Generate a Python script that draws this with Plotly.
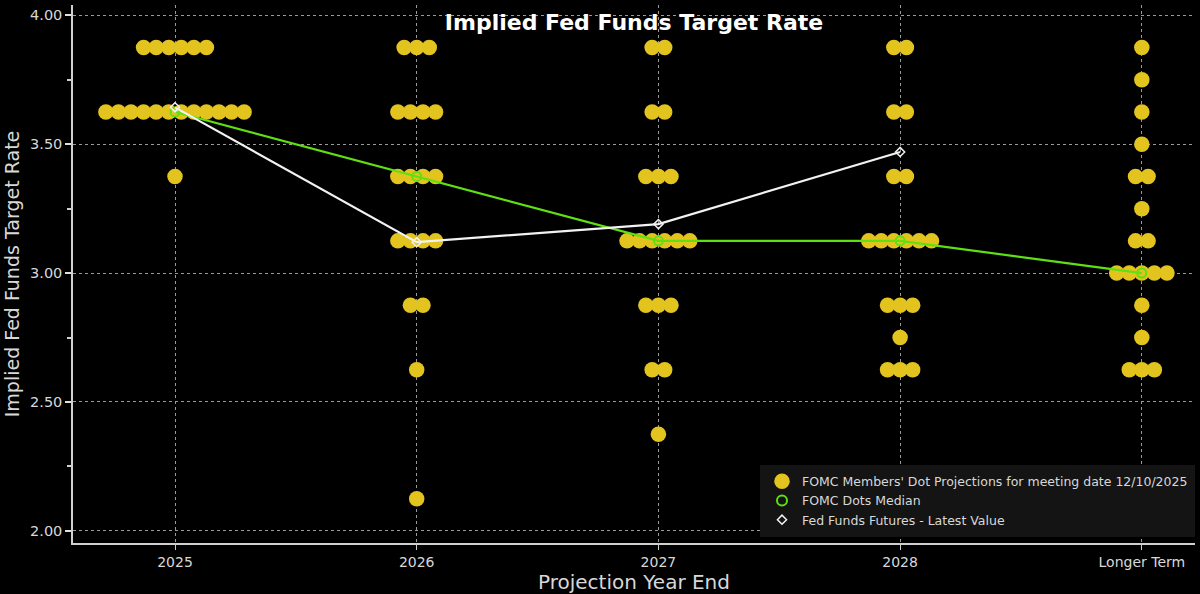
import plotly.graph_objects as go

categories = ["2025", "2026", "2027", "2028", "Longer Term"]

# FOMC dot plot: rate levels and number of participants at each level
dot_rates = [
    [3.875, 3.625, 3.375],
    [3.875, 3.625, 3.375, 3.125, 2.875, 2.625, 2.125],
    [3.875, 3.625, 3.375, 3.125, 2.875, 2.625, 2.375],
    [3.875, 3.625, 3.375, 3.125, 2.875, 2.75, 2.625],
    [3.875, 3.75, 3.625, 3.5, 3.375, 3.25, 3.125, 3.0, 2.875, 2.75, 2.625],
]
dot_counts = [
    [6, 12, 1],
    [3, 4, 4, 4, 2, 1, 1],
    [2, 2, 3, 6, 3, 2, 1],
    [2, 2, 2, 6, 3, 1, 3],
    [1, 1, 1, 1, 2, 1, 2, 5, 1, 1, 3],
]
median_values = [3.625, 3.375, 3.125, 3.125, 3.0]
futures_values = [3.643, 3.12, 3.19, 3.47]

yticks = [2.0, 2.5, 3.0, 3.5, 4.0]

YELLOW = "#E3C31E"
GREEN = "#5FE012"
WHITE = "#F2F2F2"
SPACING = 0.052  # horizontal offset between side-by-side dots (x units)

dx, dy = [], []
for i, (rates, counts) in enumerate(zip(dot_rates, dot_counts)):
    for r, n in zip(rates, counts):
        for k in range(n):
            dx.append(i + (k - (n - 1) / 2) * SPACING)
            dy.append(r)

FONT = "DejaVu Sans"

fig = go.Figure()
fig.add_trace(go.Scatter(
    x=dx, y=dy, mode="markers",
    marker=dict(size=15.5, color=YELLOW, line=dict(width=0)),
    name="FOMC Members' Dot Projections for meeting date 12/10/2025",
))
fig.add_trace(go.Scatter(
    x=list(range(len(median_values))), y=median_values, mode="lines+markers",
    line=dict(color=GREEN, width=2.2),
    marker=dict(symbol="circle-open", size=9, color=GREEN, line=dict(width=2)),
    showlegend=False, name="FOMC Dots Median",
))
fig.add_trace(go.Scatter(
    x=list(range(len(futures_values))), y=futures_values, mode="lines+markers",
    line=dict(color=WHITE, width=2.2),
    marker=dict(symbol="diamond-open", size=7, color=WHITE, line=dict(width=1.5)),
    showlegend=False, name="Fed Funds Futures - Latest Value",
))
# legend-only entries (marker only, as in the reference legend)
fig.add_trace(go.Scatter(
    x=[None], y=[None], mode="markers",
    marker=dict(symbol="circle-open", size=10, color=GREEN, line=dict(width=2)),
    name="FOMC Dots Median",
))
fig.add_trace(go.Scatter(
    x=[None], y=[None], mode="markers",
    marker=dict(symbol="diamond-open", size=7, color=WHITE, line=dict(width=1.5)),
    name="Fed Funds Futures - Latest Value",
))

fig.update_layout(
    width=1200, height=594,
    paper_bgcolor="black", plot_bgcolor="black",
    margin=dict(l=73, r=5, t=5, b=51),
    font=dict(family=FONT, color="#D8D8D8", size=14),
    title=dict(text="<b>Implied Fed Funds Target Rate</b>", x=0.5, xref="paper",
               y=0.963, yanchor="middle", xanchor="center",
               font=dict(family=FONT, size=22, color="white")),
    showlegend=True,
    legend=dict(x=1.0, y=0.012, xanchor="right", yanchor="bottom",
                bgcolor="#141414", bordercolor="#141414", borderwidth=2,
                font=dict(family=FONT, size=12.5, color="#D8D8D8"),
                tracegroupgap=0, itemsizing="trace", itemwidth=30),
)
fig.update_xaxes(
    range=[-0.422, 4.22],
    tickmode="array", tickvals=list(range(len(categories))), ticktext=categories,
    showgrid=True, gridcolor="#9A9A9A", griddash="dot", gridwidth=1,
    zeroline=False, showline=True, linecolor="#CFCFCF", linewidth=1.5,
    ticks="outside", ticklen=5, tickcolor="#CFCFCF",
    tickfont=dict(size=14, color="#D8D8D8"),
    title=dict(text="Projection Year End", font=dict(size=20, color="#D8D8D8"), standoff=5),
)
fig.update_yaxes(
    range=[1.953, 4.04],
    tickmode="array", tickvals=yticks, ticktext=[f"{v:.2f}" for v in yticks],
    showgrid=True, gridcolor="#9A9A9A", griddash="dot", gridwidth=1,
    zeroline=False, showline=True, linecolor="#CFCFCF", linewidth=1.5,
    ticks="outside", ticklen=6, tickwidth=2, tickcolor="#E0E0E0",
    minor=dict(tickvals=[2.25, 2.75, 3.25, 3.75], ticks="outside", ticklen=4,
               tickcolor="#CFCFCF", showgrid=False),
    tickfont=dict(size=14.5, color="#D8D8D8"),
    title=dict(text="Implied Fed Funds Target Rate", font=dict(size=19, color="#D8D8D8"), standoff=5),
)

fig.write_html("out.html", config={"displayModeBar": False})

# remove the browser's default page margin so the figure fills the window
with open("out.html", "r", encoding="utf-8") as f:
    html = f.read()
html = html.replace("<head>", "<head><style>html,body{margin:0;padding:0;background:black;overflow:hidden;}</style>", 1)
with open("out.html", "w", encoding="utf-8") as f:
    f.write(html)
